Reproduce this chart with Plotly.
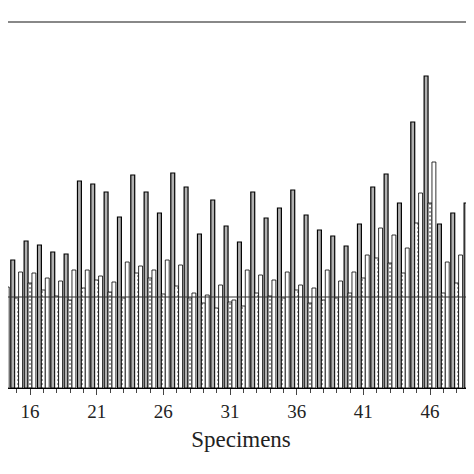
import plotly.graph_objects as go

# Specimen numbers and readings for the three bars of each specimen
specimens = list(range(14, 50))
tall = [1.21, 1.28, 1.47, 1.43, 1.36, 1.34, 2.07, 2.04, 1.96, 1.71, 2.13, 1.96,
        1.75, 2.15, 2.01, 1.54, 1.88, 1.62, 1.46, 1.96, 1.70, 1.80, 1.98, 1.73,
        1.58, 1.52, 1.42, 1.64, 2.01, 2.14, 1.85, 2.66, 3.12, 1.64, 1.75, 1.85]
mid = [1.01, 1.16, 1.15, 1.10, 1.07, 1.18, 1.18, 1.12, 1.06, 1.26, 1.22, 1.18,
       1.28, 1.23, 0.95, 0.93, 1.03, 0.88, 1.18, 1.13, 1.08, 1.16, 1.03, 1.00,
       1.18, 1.07, 1.16, 1.33, 1.60, 1.53, 1.40, 1.95, 2.26, 1.26, 1.33, 1.45]
dotted = [0.95, 0.90, 1.05, 0.98, 0.92, 0.88, 1.00, 1.08, 0.96, 0.90, 1.15, 1.10,
          0.94, 1.02, 0.90, 0.85, 0.80, 0.86, 0.82, 0.95, 0.92, 0.90, 0.98, 0.85,
          0.88, 0.90, 0.95, 1.10, 1.30, 1.25, 1.15, 1.65, 1.85, 0.95, 1.05, 1.10]
ref_level = 0.91
xticks = [16, 21, 26, 31, 36, 41, 46]

fig = go.Figure()
fig.add_trace(go.Bar(x=specimens, y=tall, marker=dict(color="#b0b0b0", line=dict(color="black", width=1.2))))
fig.add_trace(go.Bar(x=specimens, y=dotted, marker=dict(color="white", line=dict(color="black", width=0.8),
                                                        pattern=dict(shape=".", fgcolor="black", size=4, solidity=0.2))))
fig.add_trace(go.Bar(x=specimens, y=mid, marker=dict(color="white", line=dict(color="black", width=0.8))))

fig.add_shape(type="line", xref="paper", x0=0, x1=1, y0=ref_level, y1=ref_level, line=dict(color="#333", width=1.2))

fig.update_layout(
    width=466, height=466, showlegend=False, barmode="group", bargap=0.12, bargroupgap=0,
    plot_bgcolor="white", paper_bgcolor="white",
    margin=dict(l=0, r=0, t=14, b=86),
    font=dict(family="Liberation Serif", size=19, color="#222"),
    xaxis=dict(range=[14.35, 49.3], tickvals=xticks, ticks="outside", ticklen=6, showgrid=False,
               showline=True, linecolor="black", mirror=False,
               minor=dict(ticks="outside", ticklen=4, dtick=1, tick0=0),
               title=dict(text="Specimens", standoff=10)),
    yaxis=dict(range=[0, 3.66], showticklabels=False, showgrid=False, zeroline=False,
               showline=False),
)
fig.add_shape(type="line", xref="paper", yref="paper", x0=0, x1=1, y0=1, y1=1, line=dict(color="#888", width=2))

fig.write_html("out.html")
